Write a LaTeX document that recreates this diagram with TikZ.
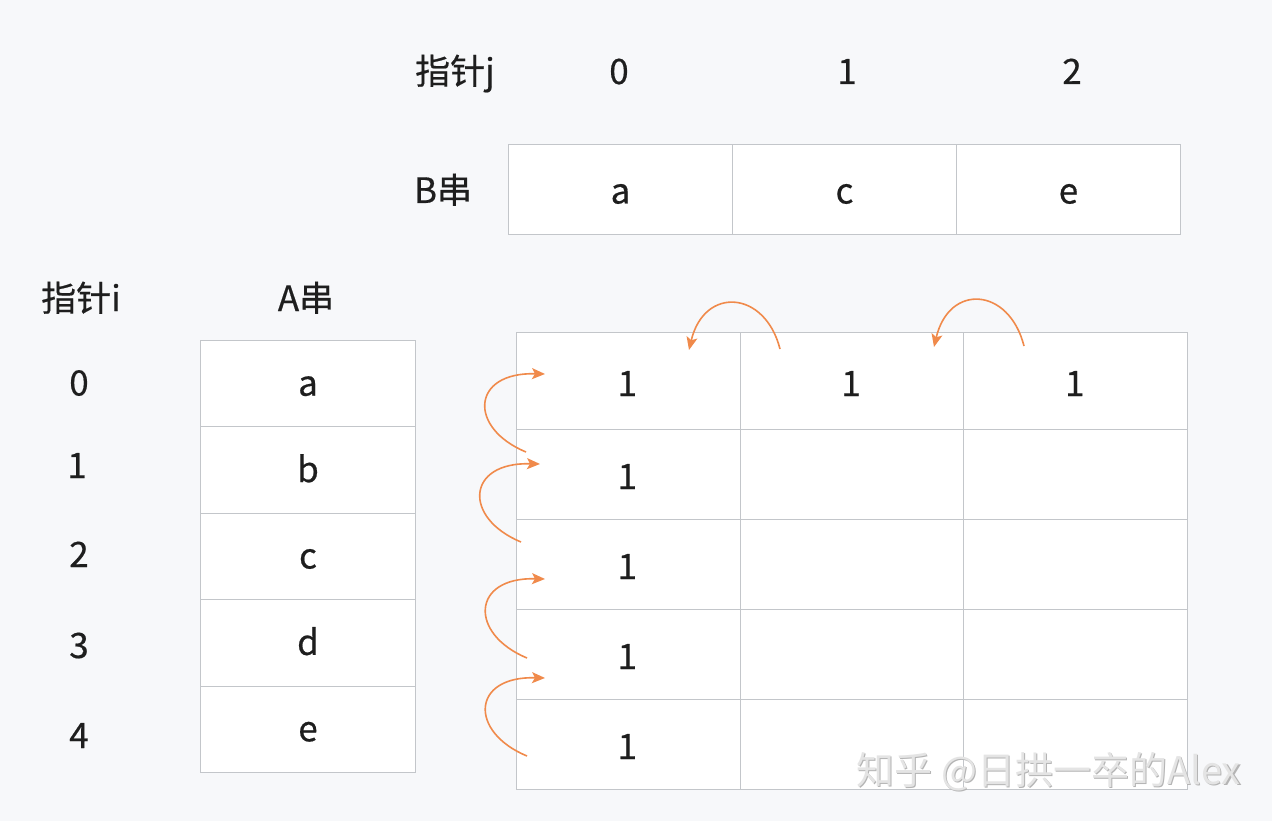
\documentclass[tikz,border=0pt]{standalone}
\usepackage{fontspec}
\setmainfont{Noto Sans CJK SC}
\newfontfamily\lblfont{Noto Sans CJK SC}[FakeBold=0.5]
\usetikzlibrary{arrows.meta}
\definecolor{bgc}{HTML}{F7F8FA}
\definecolor{gridc}{HTML}{C3C6CA}
\definecolor{txt}{HTML}{1E1E1E}
\definecolor{arr}{HTML}{F08A4B}
\definecolor{wm}{HTML}{E4E4E4}
\definecolor{wms}{HTML}{B4B4B4}
\tikzset{
  lbl/.style={font=\lblfont\fontsize{35}{40}\selectfont, text=txt, inner sep=0pt, anchor=base},
  cellbox/.style={draw=gridc, line width=1pt, fill=white, anchor=north west, inner sep=0pt},
  jump/.style={draw=arr, line width=1.6pt, -{Stealth[length=13pt,width=11pt,inset=3pt]}},
  wmark/.style={font=\fontsize{38}{42}\selectfont, inner sep=0pt}
}
\begin{document}
\begin{tikzpicture}[x=1pt,y=-1pt]
\fill[bgc] (0,0) rectangle (1272,821);
\useasboundingbox (0,0) rectangle (1272,821);
% B table
\foreach \k/\x/\t in {0/508/a,1/732/c,2/956/e}{
  \node[cellbox, minimum width=224pt, minimum height=90pt] (b\k) at (\x,144) {};
  \node[lbl] (bt\k) at ([yshift=-14pt]b\k.center) {\t};
}
% A table
\foreach \k/\y/\t in {0/340.0/a,1/426.4/b,2/512.8/c,3/599.2/d,4/685.6/e}{
  \node[cellbox, minimum width=215pt, minimum height=86.4pt] (a\k) at (200,\y) {};
  \node[lbl] (at\k) at ([yshift=-12pt]a\k.center) {\t};
}
% main grid
\foreach \c/\x in {0/516,1/739.7,2/963.4}{
  \node[cellbox, minimum width=223.7pt, minimum height=97pt] (m0\c) at (\x,332) {};
  \foreach \r/\y in {1/429,2/519,3/609,4/699}{
    \node[cellbox, minimum width=223.7pt, minimum height=90pt] (m\r\c) at (\x,\y) {};
  }
}
\node[lbl] (vm00) at ([xshift=-1pt,yshift=-15pt]m00.center) {1};
\node[lbl] (vm01) at ([xshift=-1pt,yshift=-15pt]m01.center) {1};
\node[lbl] (vm02) at ([xshift=-1pt,yshift=-15pt]m02.center) {1};
\foreach \r in {1,2,3,4}{
  \node[lbl] (vm\r0) at ([xshift=-1pt,yshift=-14.5pt]m\r0.center) {1};
}
% headers
\node[lbl] (pj) at (455,84) {指针j};
\node[lbl] (j0) at (619,84) {0};
\node[lbl] (j1) at (847,84) {1};
\node[lbl] (j2) at (1072,84) {2};
\node[lbl] (bs) at (443,203) {B串};
\node[lbl] (pi) at (81,311) {指针i};
\node[lbl] (as) at (306,311) {A串};
\node[lbl] (i0) at (79,395.5) {0};
\node[lbl] (i1) at (77,478) {1};
\node[lbl] (i2) at (79,567) {2};
\node[lbl] (i3) at (79,658) {3};
\node[lbl] (i4) at (79,748) {4};
% arrow endpoints
\coordinate (s1) at (526,452); \coordinate (t1) at (545,374);
\coordinate (s2) at (521,542); \coordinate (t2) at (540,464);
\coordinate (s3) at (527,658); \coordinate (t3) at (545,579);
\coordinate (s4) at (527,756); \coordinate (t4) at (545,678);
\foreach \k in {1,2,3,4}{
  \draw[jump] (s\k) .. controls ([shift={(-58,-24)}]s\k) and ([shift={(-74,-2)}]t\k) .. (t\k);
}
\coordinate (u1) at (780,349); \coordinate (w1) at (689,350);
\coordinate (u2) at (1024,346); \coordinate (w2) at (934,347);
\foreach \k in {1,2}{
  \draw[jump] (u\k) .. controls ([shift={(-15,-59)}]u\k) and ([shift={(15,-64)}]w\k) .. (w\k);
}
% watermark
\node[wmark, text=wms] (wm0) at (1050,773) {知乎 @日拱一卒的Alex};
\node[wmark, text=wm] (wm1) at ([shift={(-1.2,-1.2)}]wm0.center) {知乎 @日拱一卒的Alex};
\end{tikzpicture}
\end{document}
